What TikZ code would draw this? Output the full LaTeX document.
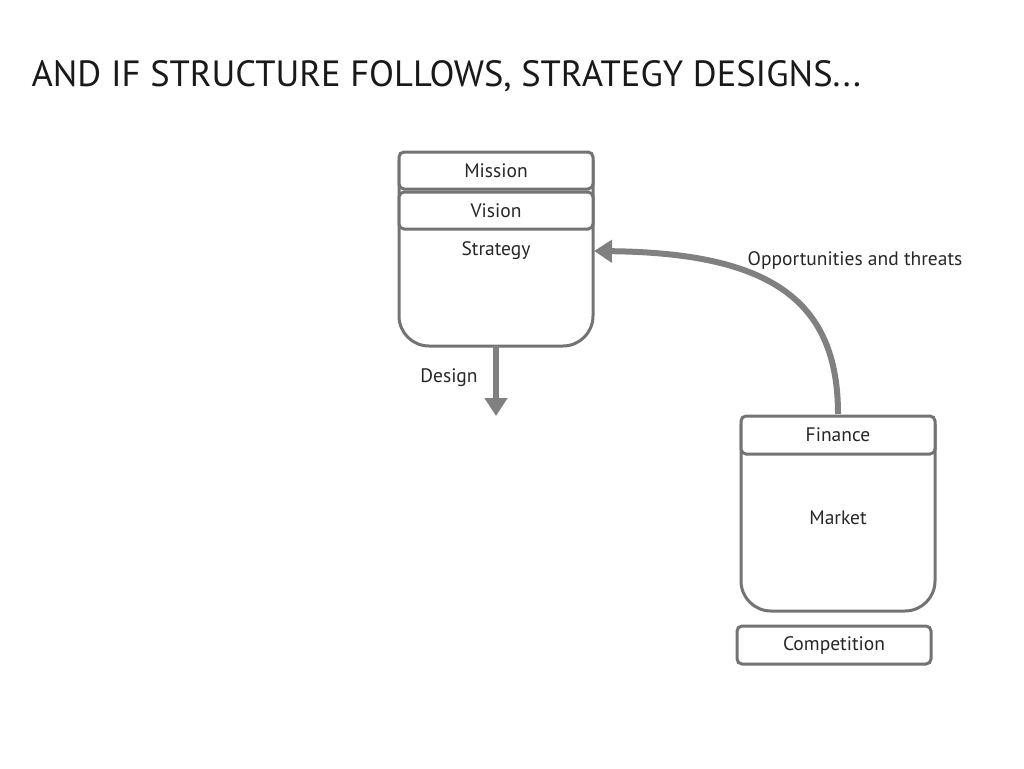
\documentclass[tikz,border=0pt]{standalone}
\usepackage{fontspec}
\setmainfont{PT Sans}
\usetikzlibrary{arrows.meta}
\begin{document}
\begin{tikzpicture}[x=1pt,y=-1pt,
  box/.style={draw=gray!90!black,line width=3pt,rounded corners=5pt,fill=white},
  body/.style={draw=gray!90!black,line width=3pt,rounded corners=30pt},
  lbl/.style={font=\fontsize{19.5}{22}\selectfont,text=black!85},
  arr/.style={draw=gray,line width=6pt,-{Triangle[length=18pt,width=22pt]}}]
\useasboundingbox (0,0) rectangle (1024,768);
\node[anchor=base west,font=\fontsize{36.5}{40}\selectfont,text=black!90] (title) at (28,86) {AND IF STRUCTURE FOLLOWS, STRATEGY DESIGNS...};
% strategy
\draw[body] (399,160) -- (399,346) -- (593,346) -- (593,160);
\node[box,minimum width=194pt,minimum height=37pt,inner sep=0pt] (mission) at (496,170.5) {};
\node[lbl] at (mission) {Mission};
\node[box,minimum width=194pt,minimum height=37pt,inner sep=0pt] (vision) at (496,210.5) {};
\node[lbl] at (vision) {Vision};
\node[lbl] (strategy) at (496,251) {Strategy};
\coordinate (sbot) at (496,346);
\coordinate (dend) at (496,416);
\draw[arr] (sbot) -- (dend);
\node[lbl] (design) at (449,378) {Design};
% market
\draw[body] (741,424) -- (741,611) -- (935,611) -- (935,424);
\node[box,minimum width=194pt,minimum height=38pt,inner sep=0pt] (finance) at (838,435) {};
\node[lbl] at (finance) {Finance};
\node[lbl] (market) at (838,518) {Market};
\node[box,minimum width=194pt,minimum height=38pt,inner sep=0pt] (comp) at (834,645) {};
\node[lbl] at (comp) {Competition};
\coordinate (ftop) at (838,414);
\coordinate (sright) at (594,251);
\draw[arr] (ftop) .. controls (838,300) and (770,253) .. (sright);
\node[lbl] (opp) at (855,261) {Opportunities and threats};
\end{tikzpicture}
\end{document}
